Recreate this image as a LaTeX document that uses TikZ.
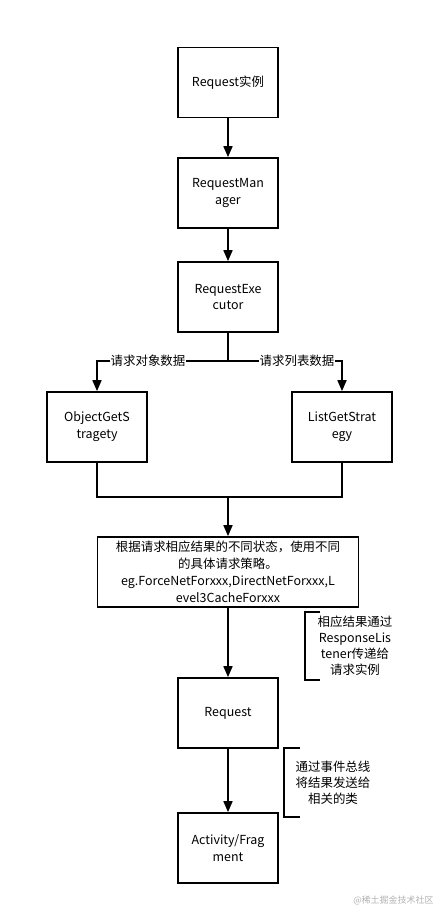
\documentclass[tikz,border=0pt]{standalone}
\usepackage{fontspec}
\setmainfont{Noto Sans CJK SC}
\usetikzlibrary{arrows.meta,positioning}
\begin{document}
\begin{tikzpicture}[x=1bp,y=-1bp,
  box/.style={draw=black,line width=1.7bp,minimum width=100bp,minimum height=70bp,align=center,inner sep=2bp,font=\fontsize{12.5}{17}\selectfont},
  conn/.style={draw=black,line width=1.7bp},
  arr/.style={conn,-{Triangle[length=11bp,width=9bp]}},
  lbl/.style={fill=white,inner sep=1bp,font=\fontsize{12.5}{17}\selectfont},
  note/.style={align=center,inner sep=0pt,font=\fontsize{12.5}{16}\selectfont},
  brk/.style={draw=black,line width=1.3bp}]
\useasboundingbox (0,0) rectangle (437,916);
\node[box] (b1) at (228,82.5) {Request实例};
\node[box] (b2) at (228,193) {RequestMan\\ager};
\node[box] (b3) at (228,297) {RequestExe\\cutor};
\node[box] (b4) at (97,427) {ObjectGetS\\tragety};
\node[box] (b5) at (342,427) {ListGetStrat\\egy};
\node[box,minimum width=261bp] (b6) at (228,572) {根据请求相应结果的不同状态，使用不同\\的具体请求策略。\\eg.ForceNetForxxx,DirectNetForxxx,L\\evel3CacheForxxx};
\node[box] (b7) at (228,713) {Request};
\node[box] (b8) at (228,848) {Activity/Frag\\ment};
\coordinate (s) at (228,361);
\coordinate (j) at (228,497);
\draw[arr] (b1) -- (b2);
\draw[arr] (b2) -- (b3);
\draw[conn] (b3.south) -- (s);
\draw[arr] (s) -| (b4.north);
\draw[arr] (s) -| (b5.north);
\node[lbl] (l1) at (148,361) {请求对象数据};
\node[lbl] (l2) at (297,361) {请求列表数据};
\draw[conn] (b4.south) |- (j) -| (b5.south);
\draw[arr] (j) -- (b6.north);
\draw[arr] (b6) -- (b7);
\draw[arr] (b7) -- (b8);
\draw[brk] (320,612) -- (305,612) -- (305,680) -- (320,680);
\node[note] (n1) at (355,646) {相应结果通过\\ResponseLis\\tener传递给\\请求实例};
\draw[brk] (300,748) -- (284,748) -- (284,817) -- (300,817);
\node[note] (n2) at (333,783) {通过事件总线\\将结果发送给\\相关的类};
\node[text=black!30,font=\fontsize{9}{10}\selectfont,anchor=east] (wm) at (437,900) {@稀土掘金技术社区};
\end{tikzpicture}
\end{document}
